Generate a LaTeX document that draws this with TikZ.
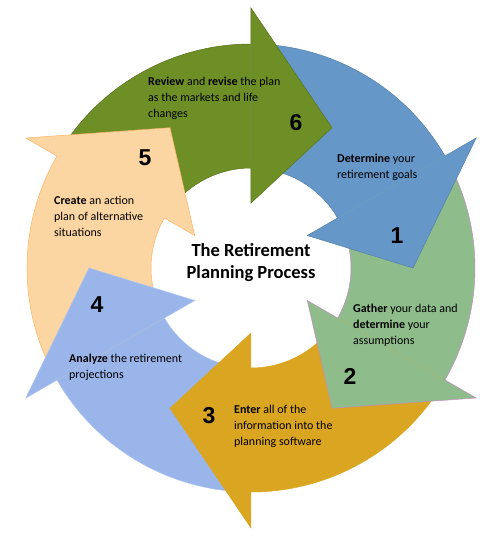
\documentclass[tikz,border=0pt]{standalone}
\usepackage{fontspec}
\setmainfont{Carlito}
\newfontfamily\numfont{Liberation Sans}
\usepackage{tikz}
\usetikzlibrary{positioning}

\definecolor{olivegreen}{RGB}{110,143,38}
\definecolor{steelblue}{RGB}{101,151,200}
\definecolor{sagegreen}{RGB}{143,188,139}
\definecolor{goldbrown}{RGB}{218,165,32}
\definecolor{skyblue}{RGB}{154,181,234}
\definecolor{peach}{RGB}{252,214,162}

\begin{document}
\begin{tikzpicture}[
  x=1pt, y=1pt,
  rim/.style={line width=0.5pt},
  head/.style={line width=0.5pt, line join=miter},
  steptext/.style={font=\fontsize{12}{16}\selectfont, align=left, anchor=north west, inner sep=0pt},
  num/.style={font=\numfont\bfseries\fontsize{23}{23}\selectfont, inner sep=0pt},
  title/.style={font=\bfseries\fontsize{18.5}{22}\selectfont, align=center, inner sep=0pt},
]
\useasboundingbox (-251,-274) rectangle (247,268);

%── Ring bodies (each runs a little under its own head) ───────────────────────

\fill[olivegreen] (150:224) arc[start angle=150, end angle=87, radius=224] -- (87:100) arc[start angle=87, end angle=150, radius=100] -- cycle;
\fill[steelblue] (90:224) arc[start angle=90, end angle=27, radius=224] -- (27:100) arc[start angle=27, end angle=90, radius=100] -- cycle;
\fill[sagegreen] (30:224) arc[start angle=30, end angle=-33, radius=224] -- (-33:100) arc[start angle=-33, end angle=30, radius=100] -- cycle;
\fill[goldbrown] (-30:224) arc[start angle=-30, end angle=-93, radius=224] -- (-93:100) arc[start angle=-93, end angle=-30, radius=100] -- cycle;
\fill[skyblue] (-90:224) arc[start angle=-90, end angle=-153, radius=224] -- (-153:100) arc[start angle=-153, end angle=-90, radius=100] -- cycle;
\fill[peach] (210:224) arc[start angle=210, end angle=147, radius=224] -- (147:100) arc[start angle=147, end angle=210, radius=100] -- cycle;

% rims of the bodies, without their ends
\draw[rim, olivegreen!80!black] (150:224) arc[start angle=150, end angle=90, radius=224] (90:100) arc[start angle=90, end angle=150, radius=100];
\draw[rim, steelblue!85!black] (90:224) arc[start angle=90, end angle=30, radius=224] (30:100) arc[start angle=30, end angle=90, radius=100];
\draw[rim, violet!45] (30:224) arc[start angle=30, end angle=-30, radius=224] (-30:100) arc[start angle=-30, end angle=30, radius=100];
\draw[rim, goldbrown] (-30:224) arc[start angle=-30, end angle=-90, radius=224] (-90:100) arc[start angle=-90, end angle=-30, radius=100];
\draw[rim, skyblue!80!white] (-90:224) arc[start angle=-90, end angle=-150, radius=224] (-150:100) arc[start angle=-150, end angle=-90, radius=100];
\draw[rim, orange!60] (210:224) arc[start angle=210, end angle=150, radius=224] (150:100) arc[start angle=150, end angle=210, radius=100];

%── Arrow heads, each one over the next body ──────────────────────────────────

\path[head, fill=olivegreen, draw=olivegreen!80!black] (90:224) -- (90:260) -- (60:162) -- (90:65) -- (90:100);
\path[head, fill=steelblue, draw=steelblue!85!black] (30:224) -- (30:260) -- (0:162) -- (30:65) -- (30:100);
\path[head, fill=sagegreen, draw=violet!45] (-30:224) -- (-30:260) -- (-60:162) -- (-30:65) -- (-30:100);
\path[head, fill=goldbrown, draw=goldbrown] (-90:224) -- (-90:260) -- (-120:162) -- (-90:65) -- (-90:100);
\path[head, fill=skyblue, draw=skyblue!80!white] (-150:224) -- (-150:260) -- (-180:162) -- (-150:65) -- (-150:100);
\path[head, fill=peach, draw=orange!60] (150:224) -- (150:260) -- (120:162) -- (150:65) -- (150:100);

%── Texts ─────────────────────────────────────────────────────────────────────

\node[title] (title) at (0,5) {The Retirement\\Planning Process};

\node[steptext] (review)    at (-103,191) {\textbf{Review} and \textbf{revise} the plan\\as the markets and life\\changes};
\node[steptext] (determine) at (86,114)   {\textbf{Determine} your\\retirement goals};
\node[steptext] (gather)    at (102,-36)  {\textbf{Gather} your data and\\\textbf{determine} your\\assumptions};
\node[steptext] (enter)     at (-17,-137) {\textbf{Enter} all of the\\information into the\\planning software};
\node[steptext] (analyze)   at (-182,-86) {\textbf{Analyze} the retirement\\projections};
\node[steptext] (create)    at (-197,72)  {\textbf{Create} an action\\plan of alternative\\situations};

\node[num] (n1) at (146,32)    {1};
\node[num] (n2) at (99,-108)   {2};
\node[num] (n3) at (-42,-148)  {3};
\node[num] (n4) at (-154,-37)  {4};
\node[num] (n5) at (-106,110)  {5};
\node[num] (n6) at (45,145)    {6};

\end{tikzpicture}
\end{document}
